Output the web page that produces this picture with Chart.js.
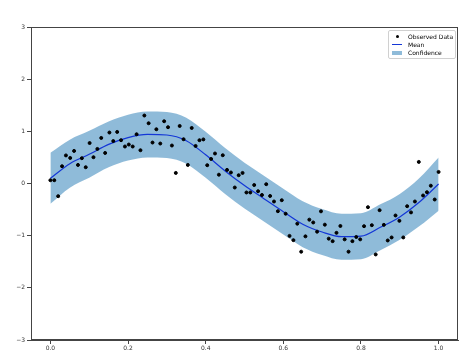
<!DOCTYPE html>
<html>
<head>
<meta charset="utf-8">
<script src="https://cdn.jsdelivr.net/npm/chart.js@4.4.1/dist/chart.umd.min.js"></script>
<style>
  body { margin: 0; background: #fff; }
  #wrap { position: relative; width: 474px; height: 362px; }
  #legend {
    position: absolute; left: 388px; top: 30px; width: 66px; height: 27px;
    border: 1px solid #d0d0d0; border-radius: 2px; background: rgba(255,255,255,0.8);
    font-family: "DejaVu Sans", sans-serif; font-size: 6px; color: #000;
  }
  .row { position: absolute; left: 0; height: 8px; line-height: 8px; }
  .row span { position: absolute; left: 19px; white-space: nowrap; }
  .dot { position: absolute; left: 6.5px; top: 2.5px; width: 3px; height: 3px; border-radius: 50%; background: #000; }
  .ln { position: absolute; left: 3px; top: 3.5px; width: 10px; height: 1px; background: rgb(20,55,215); }
  .patch { position: absolute; left: 3px; top: 2px; width: 10px; height: 4px; background: rgba(31,119,180,0.5); }
</style>
</head>
<body>
<div id="wrap">
  <canvas id="gpChart" width="474" height="362"></canvas>
  <div id="legend">
    <div class="row" style="top:1.5px"><div class="dot"></div><span>Observed Data</span></div>
    <div class="row" style="top:9.5px"><div class="ln"></div><span>Mean</span></div>
    <div class="row" style="top:17.5px"><div class="patch"></div><span>Confidence</span></div>
  </div>
</div>
<script>
var obsX = [0, 0.010, 0.020, 0.030, 0.040, 0.051, 0.061, 0.071, 0.081, 0.091,
    0.101, 0.111, 0.121, 0.131, 0.141, 0.152, 0.162, 0.172, 0.182, 0.192,
    0.202, 0.212, 0.222, 0.232, 0.242, 0.253, 0.263, 0.273, 0.283, 0.293,
    0.303, 0.313, 0.323, 0.333, 0.343, 0.354, 0.364, 0.374, 0.384, 0.394,
    0.404, 0.414, 0.424, 0.434, 0.444, 0.455, 0.465, 0.475, 0.485, 0.495,
    0.505, 0.515, 0.525, 0.535, 0.545, 0.556, 0.566, 0.576, 0.586, 0.596,
    0.606, 0.616, 0.626, 0.636, 0.646, 0.657, 0.667, 0.677, 0.687, 0.697,
    0.707, 0.717, 0.727, 0.737, 0.747, 0.758, 0.768, 0.778, 0.788, 0.798,
    0.808, 0.818, 0.828, 0.838, 0.848, 0.859, 0.869, 0.879, 0.889, 0.899,
    0.909, 0.919, 0.929, 0.939, 0.949, 0.960, 0.970, 0.980, 0.990, 1.000];

var obsY = [0.063, 0.063, -0.243, 0.331, 0.538, 0.490, 0.625, 0.356, 0.485, 0.312,
    0.776, 0.504, 0.663, 0.874, 0.586, 0.977, 0.814, 0.989, 0.830, 0.709,
    0.747, 0.709, 0.944, 0.638, 1.303, 1.155, 0.785, 1.040, 0.766, 1.193,
    1.079, 0.728, 0.203, 1.103, 0.849, 0.356, 1.065, 0.720, 0.830, 0.845,
    0.351, 0.471, 0.575, 0.169, 0.542, 0.261, 0.211, -0.077, 0.159, 0.203,
    -0.172, -0.172, -0.029, -0.148, -0.220, -0.013, -0.239, -0.345, -0.531, -0.320,
    -0.579, -1.004, -1.086, -0.770, -1.307, -1.013, -0.693, -0.747, -0.923, -0.534,
    -0.789, -1.057, -1.105, -0.946, -0.814, -1.071, -1.307, -1.105, -1.025, -1.071,
    -0.818, -0.454, -0.799, -1.360, -0.511, -0.793, -1.092, -1.034, -0.613, -0.716,
    -1.034, -0.435, -0.554, -0.345, 0.414, -0.230, -0.167, -0.042, -0.307, 0.222];

var gridX = [0, 0.05, 0.10, 0.15, 0.20, 0.25, 0.30, 0.35, 0.40, 0.45, 0.50,
    0.55, 0.60, 0.65, 0.70, 0.75, 0.80, 0.85, 0.90, 0.95, 1.0];
var meanY = [0.10, 0.38, 0.56, 0.75, 0.88, 0.94, 0.93, 0.82, 0.55, 0.24, -0.04,
    -0.29, -0.54, -0.78, -0.93, -1.02, -1.01, -0.84, -0.64, -0.36, -0.01];
var upperY = [0.59, 0.84, 1.01, 1.19, 1.32, 1.38, 1.37, 1.26, 0.99, 0.68, 0.40,
    0.15, -0.10, -0.34, -0.49, -0.58, -0.57, -0.40, -0.20, 0.10, 0.50];
var lowerY = [-0.39, -0.08, 0.11, 0.31, 0.44, 0.50, 0.49, 0.38, 0.11, -0.20, -0.48,
    -0.73, -0.98, -1.22, -1.37, -1.46, -1.45, -1.28, -1.08, -0.82, -0.52];

var xTicks = [0, 0.2, 0.4, 0.6, 0.8, 1.0];
var yTicks = [-3, -2, -1, 0, 1, 2, 3];

function pairs(xs, ys) {
    return xs.map(function(x, i) { return {x: x, y: ys[i]}; });
}

var frame = {
    id: 'frame',
    afterDatasetsDraw: function(chart) {
        var a = chart.chartArea, ctx = chart.ctx;
        ctx.save();
        ctx.strokeStyle = '#444';
        ctx.lineWidth = 1;
        ctx.strokeRect(a.left + 0.5, a.top + 0.5, a.right - a.left - 1, a.bottom - a.top - 1);
        ctx.restore();
    }
};

var tickFont = { family: 'DejaVu Sans', size: 6 };

new Chart(document.getElementById('gpChart'), {
    type: 'scatter',
    data: {
        datasets: [{
            label: 'Observed Data',
            data: pairs(obsX, obsY),
            backgroundColor: '#000',
            borderColor: '#000',
            pointRadius: 1.5,
            order: 0
        }, {
            label: 'Mean',
            type: 'line',
            data: pairs(gridX, meanY),
            borderColor: 'rgb(20,55,215)',
            borderWidth: 1.2,
            pointRadius: 0,
            cubicInterpolationMode: 'monotone',
            fill: false,
            order: 1
        }, {
            label: 'Confidence',
            type: 'line',
            data: pairs(gridX, upperY),
            borderWidth: 0,
            borderColor: 'rgba(0,0,0,0)',
            backgroundColor: 'rgba(31,119,180,0.5)',
            pointRadius: 0,
            cubicInterpolationMode: 'monotone',
            fill: '+1',
            order: 2
        }, {
            label: 'lower',
            type: 'line',
            data: pairs(gridX, lowerY),
            borderWidth: 0,
            borderColor: 'rgba(0,0,0,0)',
            pointRadius: 0,
            cubicInterpolationMode: 'monotone',
            fill: false,
            order: 3
        }]
    },
    options: {
        responsive: false,
        animation: false,
        layout: { padding: { left: 0, top: 27, right: 16, bottom: 0 } },
        plugins: { legend: { display: false }, tooltip: { enabled: false } },
        scales: {
            x: {
                type: 'linear',
                min: -0.05,
                max: 1.05,
                afterBuildTicks: function(scale) {
                    scale.ticks = xTicks.map(function(v) { return {value: v}; });
                },
                afterFit: function(scale) { scale.height = 22; },
                ticks: {
                    font: tickFont, color: '#333', padding: 1, maxRotation: 0,
                    callback: function(value) { return value.toFixed(1); }
                },
                grid: { drawOnChartArea: false, tickLength: 4, color: '#444' },
                border: { display: true, color: '#444' }
            },
            y: {
                min: -3,
                max: 3,
                afterBuildTicks: function(scale) {
                    scale.ticks = yTicks.map(function(v) { return {value: v}; });
                },
                afterFit: function(scale) { scale.width = 31; },
                ticks: {
                    font: tickFont, color: '#333', padding: 2,
                    callback: function(value) { return value.toString().replace('-', '\u2212'); }
                },
                grid: { drawOnChartArea: false, tickLength: 4, color: '#444' },
                border: { display: true, color: '#444' }
            }
        }
    },
    plugins: [frame]
});
</script>
</body>
</html>
